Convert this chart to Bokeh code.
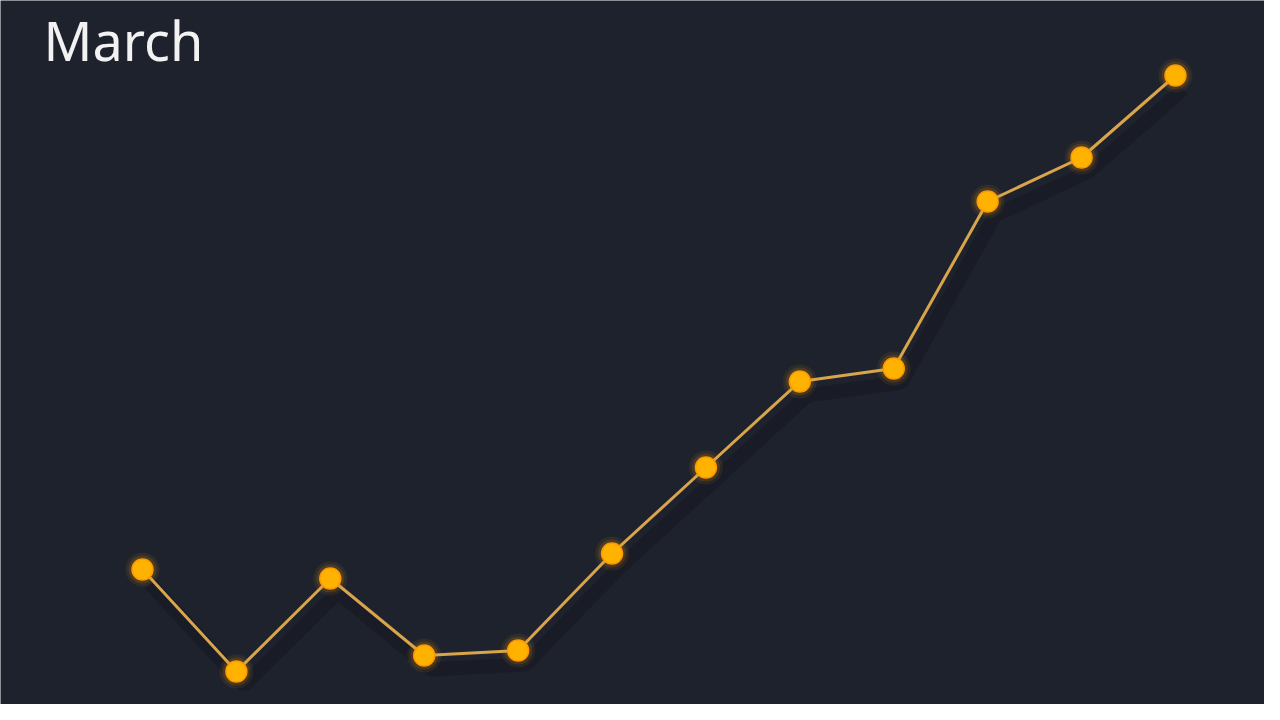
from bokeh.plotting import figure
from bokeh.models import ColumnDataSource, Label, Range1d
from bokeh.embed import file_html
from bokeh.resources import INLINE

title_text = "March"
x_idx = [0, 1, 2, 3, 4, 5, 6, 7, 8, 9, 10, 11]
values = [123, 21, 114, 37, 42, 139, 225, 311, 324, 491, 535, 617]

BG = "#1e222d"
W, H = 1264, 704

p = figure(width=W, height=H, output_backend="svg", toolbar_location=None,
           x_range=Range1d(-1.512, 11.948), y_range=Range1d(-12, 692),
           min_border=0, background_fill_color=BG, border_fill_color=BG,
           outline_line_color=None)
p.axis.visible = False
p.grid.visible = False

src = ColumnDataSource(dict(x=x_idx, y=values))

# soft shadow
sh = ColumnDataSource(dict(x=[v + 0.08 for v in x_idx], y=[v - 14 for v in values]))
p.line("x", "y", source=sh, line_color="#14171e", line_width=14, line_alpha=0.45)

# glow
p.scatter("x", "y", source=src, size=34, fill_color="#ffa000", fill_alpha=0.08, line_color=None)
p.scatter("x", "y", source=src, size=28, fill_color="#ffa000", fill_alpha=0.14, line_color=None)

p.line("x", "y", source=src, line_color="#d8a44c", line_width=3)
p.scatter("x", "y", source=src, size=21, fill_color="#ffb300", line_color="#ff9800", line_width=1.5)

p.add_layout(Label(x=43, y=702, x_units="screen", y_units="screen", text=title_text,
                   text_font="Noto Sans", text_font_size="54px", text_color="#f2f2f2",
                   text_baseline="top"))

open("out.html", "w").write(file_html(p, INLINE))
